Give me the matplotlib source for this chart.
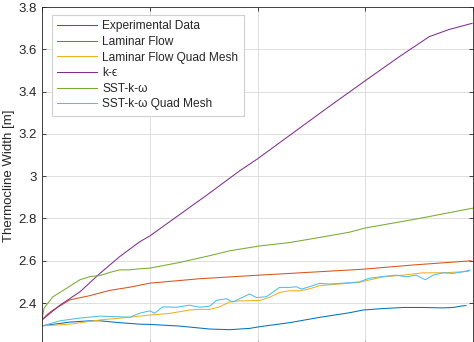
import matplotlib
matplotlib.use('Agg')
import matplotlib.pyplot as plt
import numpy as np

plt.rcParams['font.family'] = ['Liberation Sans', 'DejaVu Sans']

# time axis (hours) and thermocline width (m) for each run
t_exp = [0, 0.259, 0.444, 0.537, 0.722, 0.907, 1.0, 1.278, 1.556, 1.741, 1.926, 2.019,
         2.296, 2.574, 2.852, 2.981, 3.167, 3.352, 3.537, 3.722, 3.815, 3.907, 3.935]
w_exp = [2.292, 2.31, 2.316, 2.316, 2.307, 2.30, 2.299, 2.291, 2.277, 2.274, 2.28, 2.288,
         2.307, 2.332, 2.354, 2.367, 2.374, 2.379, 2.379, 2.377, 2.379, 2.387, 2.388]

t_lam = [0, 0.046, 0.102, 0.259, 0.444, 0.63, 0.815, 1.0, 1.463, 2.019, 2.981, 3.444, 3.907, 3.98]
w_lam = [2.32, 2.345, 2.367, 2.415, 2.435, 2.46, 2.475, 2.494, 2.515, 2.532, 2.56, 2.58, 2.597, 2.60]

t_lamq = [0, 0.259, 0.537, 0.815, 1.0, 1.185, 1.37, 1.463, 1.556, 1.648, 1.741, 1.833, 2.019,
          2.111, 2.204, 2.296, 2.389, 2.481, 2.574, 2.759, 2.944, 3.037, 3.167, 3.352, 3.537,
          3.722, 3.907, 3.963]
w_lamq = [2.292, 2.30, 2.32, 2.333, 2.343, 2.351, 2.367, 2.37, 2.37, 2.382, 2.405, 2.41, 2.412,
          2.427, 2.45, 2.458, 2.458, 2.467, 2.482, 2.49, 2.498, 2.509, 2.524, 2.532, 2.543,
          2.543, 2.548, 2.55]

t_ke = [0, 0.167, 0.352, 0.537, 0.722, 0.907, 1.0, 1.213, 1.528, 1.833, 2.0, 2.639, 3.009,
        3.315, 3.5, 3.593, 3.778, 3.991]
w_ke = [2.32, 2.39, 2.453, 2.54, 2.62, 2.69, 2.717, 2.795, 2.91, 3.025, 3.082, 3.32, 3.455,
        3.565, 3.628, 3.66, 3.694, 3.723]

t_sst = [0, 0.019, 0.102, 0.229, 0.352, 0.444, 0.537, 0.63, 0.722, 0.815, 0.907, 1.0, 1.278,
         1.556, 1.741, 2.019, 2.296, 2.574, 2.852, 3.0, 3.5, 4.0]
w_sst = [2.32, 2.376, 2.43, 2.47, 2.51, 2.525, 2.53, 2.545, 2.557, 2.557, 2.562, 2.565, 2.592,
         2.624, 2.647, 2.67, 2.686, 2.71, 2.735, 2.755, 2.80, 2.849]

t_sstq = [0, 0.167, 0.352, 0.537, 0.722, 0.815, 0.907, 1.0, 1.046, 1.12, 1.25, 1.37, 1.463,
          1.556, 1.62, 1.713, 1.769, 1.833, 1.926, 1.991, 2.083, 2.139, 2.204, 2.296, 2.361,
          2.407, 2.481, 2.574, 2.667, 2.759, 2.852, 2.944, 3.037, 3.139, 3.287, 3.38, 3.472,
          3.556, 3.63, 3.722, 3.815, 3.907, 3.972]
w_sstq = [2.292, 2.316, 2.329, 2.338, 2.335, 2.333, 2.352, 2.363, 2.352, 2.382, 2.38, 2.39,
          2.38, 2.385, 2.413, 2.42, 2.405, 2.42, 2.443, 2.426, 2.43, 2.45, 2.474, 2.474, 2.477,
          2.466, 2.477, 2.493, 2.49, 2.493, 2.496, 2.50, 2.517, 2.524, 2.532, 2.524, 2.532,
          2.51, 2.532, 2.543, 2.54, 2.548, 2.556]

labels = ['Experimental Data', 'Laminar Flow', 'Laminar Flow Quad Mesh',
          'k-\u03f5', 'SST-k-\u03c9', 'SST-k-\u03c9 Quad Mesh']
colors = ['#0072BD', '#D95319', '#EDB120', '#7E2F8E', '#77AC30', '#4DBEEE']

series = [(t_exp, w_exp), (t_lam, w_lam), (t_lamq, w_lamq),
          (t_ke, w_ke), (t_sst, w_sst), (t_sstq, w_sstq)]

fig = plt.figure(figsize=(4.74, 3.42), dpi=100)
ax = fig.add_axes([42/474, -0.0097, 431/474, 0.989])

for (t, w), lab, c in zip(series, labels, colors):
    ax.plot(t, w, color=c, lw=0.75, label=lab)

ax.set_xlim(0, 4)
ax.set_ylim(2.2, 3.8)
ax.set_xticks(np.arange(0, 5, 1))
ax.set_xticklabels([])
ax.set_yticks(np.arange(2.2, 3.81, 0.2))
# bottom label falls below the figure edge
ax.set_yticklabels(['', '2.4', '2.6', '2.8', '3', '3.2', '3.4', '3.6', '3.8'])
ax.grid(True, color='#DEDEDE', lw=0.7)
ax.set_axisbelow(True)
ax.tick_params(direction='in', length=3, width=0.6, colors='#262626', labelsize=9.5,
               top=True, right=True)
for s in ax.spines.values():
    s.set_color('#262626')
    s.set_linewidth(0.6)
ax.set_ylabel('Thermocline Width [m]', fontsize=9.5, color='#262626', labelpad=3)

leg = ax.legend(loc='upper left', bbox_to_anchor=(10/431, 1 - 8/338), fontsize=8.6,
                handlelength=3.3, handletextpad=0.45, labelspacing=0.3,
                borderpad=0.45, fancybox=False, framealpha=1, borderaxespad=0)
leg.get_frame().set_edgecolor('#D0D0D0')
leg.get_frame().set_linewidth(0.8)
for txt in leg.get_texts():
    txt.set_color('#262626')

fig.savefig('out.png', dpi=100)
